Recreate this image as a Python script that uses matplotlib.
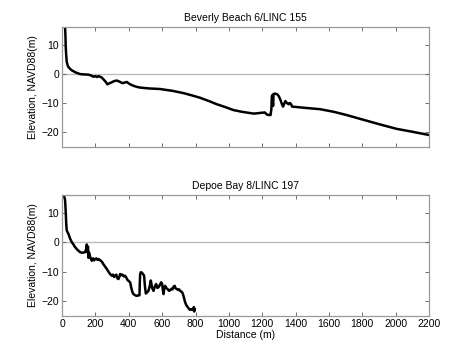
import matplotlib
matplotlib.use("Agg")
import matplotlib.pyplot as plt

plt.rcParams['font.family'] = ['Liberation Sans', 'DejaVu Sans']

# Beverly Beach 6/LINC 155 profile
bev_x = [18, 20, 22, 25, 28, 33, 38, 48, 58, 80, 108, 130, 158, 175, 188, 200, 210, 218,
         228, 238, 250, 262, 272, 285, 298, 312, 328, 345, 362, 375, 388, 405, 428,
         450, 468, 520, 588, 660, 728, 780, 828, 880, 928, 980, 1028, 1080, 1150,
         1200, 1215, 1230, 1250, 1255, 1258, 1262, 1265, 1268, 1272, 1280, 1290,
         1300, 1310, 1318, 1325, 1332, 1339, 1348, 1359, 1365, 1369, 1375, 1379,
         1450, 1548, 1630, 1707, 1806, 1900, 2005, 2100, 2200]
bev_y = [15.7, 13, 9, 6, 4, 3, 2.3, 1.7, 1.2, 0.5, -0.1, -0.2, -0.3, -0.6, -1.0, -0.8,
         -1.1, -0.8, -1.0, -1.3, -2.0, -2.8, -3.6, -3.2, -2.9, -2.5, -2.3, -2.7,
         -3.2, -3.0, -2.8, -3.5, -4.1, -4.5, -4.7, -5.0, -5.2, -5.8, -6.6, -7.4,
         -8.2, -9.3, -10.4, -11.4, -12.4, -13.0, -13.6, -13.3, -13.2, -14.0,
         -14.1, -12.0, -7.6, -7.2, -11.0, -7.0, -6.8, -6.8, -7.0, -7.7, -9.0,
         -10.3, -11.2, -10.2, -9.3, -10.0, -10.4, -10.0, -10.1, -10.6, -11.2,
         -11.6, -12.1, -13.0, -14.1, -15.7, -17.2, -18.8, -19.8, -20.9]

# Depoe Bay 8/LINC 197 profile
dep_x = [8, 13, 18, 22, 25, 28, 33, 38, 48, 58, 68, 78, 92, 108, 122, 138, 145, 148,
         150, 152, 155, 158, 161, 164, 168, 172, 178, 185, 192, 198, 205, 212,
         218, 225, 232, 238, 248, 258, 268, 278, 288, 298, 305, 312, 318, 325,
         332, 338, 343, 348, 355, 362, 370, 378, 385, 392, 400, 408, 415, 422,
         428, 438, 448, 458, 464, 466, 468, 472, 478, 485, 492, 496, 502, 510,
         518, 525, 532, 540, 548, 556, 564, 571, 578, 586, 594, 600, 604, 608,
         613, 618, 626, 634, 642, 648, 656, 662, 668, 675, 680, 688, 696, 702,
         708, 716, 722, 728, 736, 742, 748, 756, 762, 768, 775, 782, 788, 790,
         792, 795]
dep_y = [15.9, 15.5, 14.2, 10, 6, 4, 3.3, 2.8, 1.2, 0, -0.8, -1.7, -2.6, -3.4, -3.6,
         -3.4, -2.2, -0.8, -2.5, -3.4, -1.5, -5.3, -3.5, -4.0, -5.0, -5.5, -6.3,
         -5.5, -6.2, -5.7, -5.5, -6.0, -5.7, -6.0, -6.3, -6.6, -7.5, -8.3, -9.1,
         -10.0, -10.8, -11.4, -11.0, -11.8, -11.4, -11.0, -12.3, -12.5, -11.8,
         -10.8, -11.2, -11.0, -11.6, -11.4, -12.0, -12.8, -13.2, -13.6, -15.5,
         -17.0, -17.6, -18.0, -18.2, -18.0, -18.0, -14.0, -10.8, -10.2, -10.3,
         -10.8, -11.4, -14.5, -17.4, -17.0, -16.5, -15.0, -13.0, -15.5, -16.5,
         -15.0, -14.2, -15.5, -15.3, -14.5, -13.6, -14.2, -16.0, -17.6, -15.5,
         -14.8, -15.6, -16.0, -16.5, -16.2, -15.8, -16.0, -15.1, -14.8, -15.6,
         -15.9, -16.2, -16.0, -16.5, -16.8, -17.2, -18.2, -20.0, -21.0, -21.6,
         -22.2, -22.7, -22.9, -22.7, -22.9, -22.7, -22.0, -23.5, -22.7]

titles = ['Beverly Beach 6/LINC 155', 'Depoe Bay 8/LINC 197']
x_ticks = [0, 200, 400, 600, 800, 1000, 1200, 1400, 1600, 1800, 2000, 2200]
y_ticks = [-20, -10, 0, 10]

fig = plt.figure(figsize=(4.74, 3.55), dpi=100)
ax1 = fig.add_axes([0.131, 0.586, 0.774, 0.338])
ax2 = fig.add_axes([0.131, 0.110, 0.774, 0.341])

for ax, xs, ys, title in [(ax1, bev_x, bev_y, titles[0]), (ax2, dep_x, dep_y, titles[1])]:
    ax.axhline(0, color='#bbbbbb', lw=1.0, zorder=1)
    ax.plot(xs, ys, color='black', lw=1.8, zorder=2)
    ax.set_xlim(0, 2200)
    ax.set_ylim(-25, 16)
    ax.set_xticks(x_ticks)
    ax.set_yticks(y_ticks)
    ax.set_title(title, fontsize=7.5, pad=4)
    ax.set_ylabel('Elevation, NAVD88(m)', fontsize=7.5, labelpad=3)
    ax.tick_params(direction='in', top=True, right=True, length=3, width=0.6,
                   color='#555555', labelsize=7.5, pad=2)
    for s in ax.spines.values():
        s.set_color('#999999')
        s.set_linewidth(0.9)

ax1.set_xticklabels([])
ax2.set_xlabel('Distance (m)', fontsize=7.5, labelpad=1)

fig.savefig('out.png', dpi=100)
